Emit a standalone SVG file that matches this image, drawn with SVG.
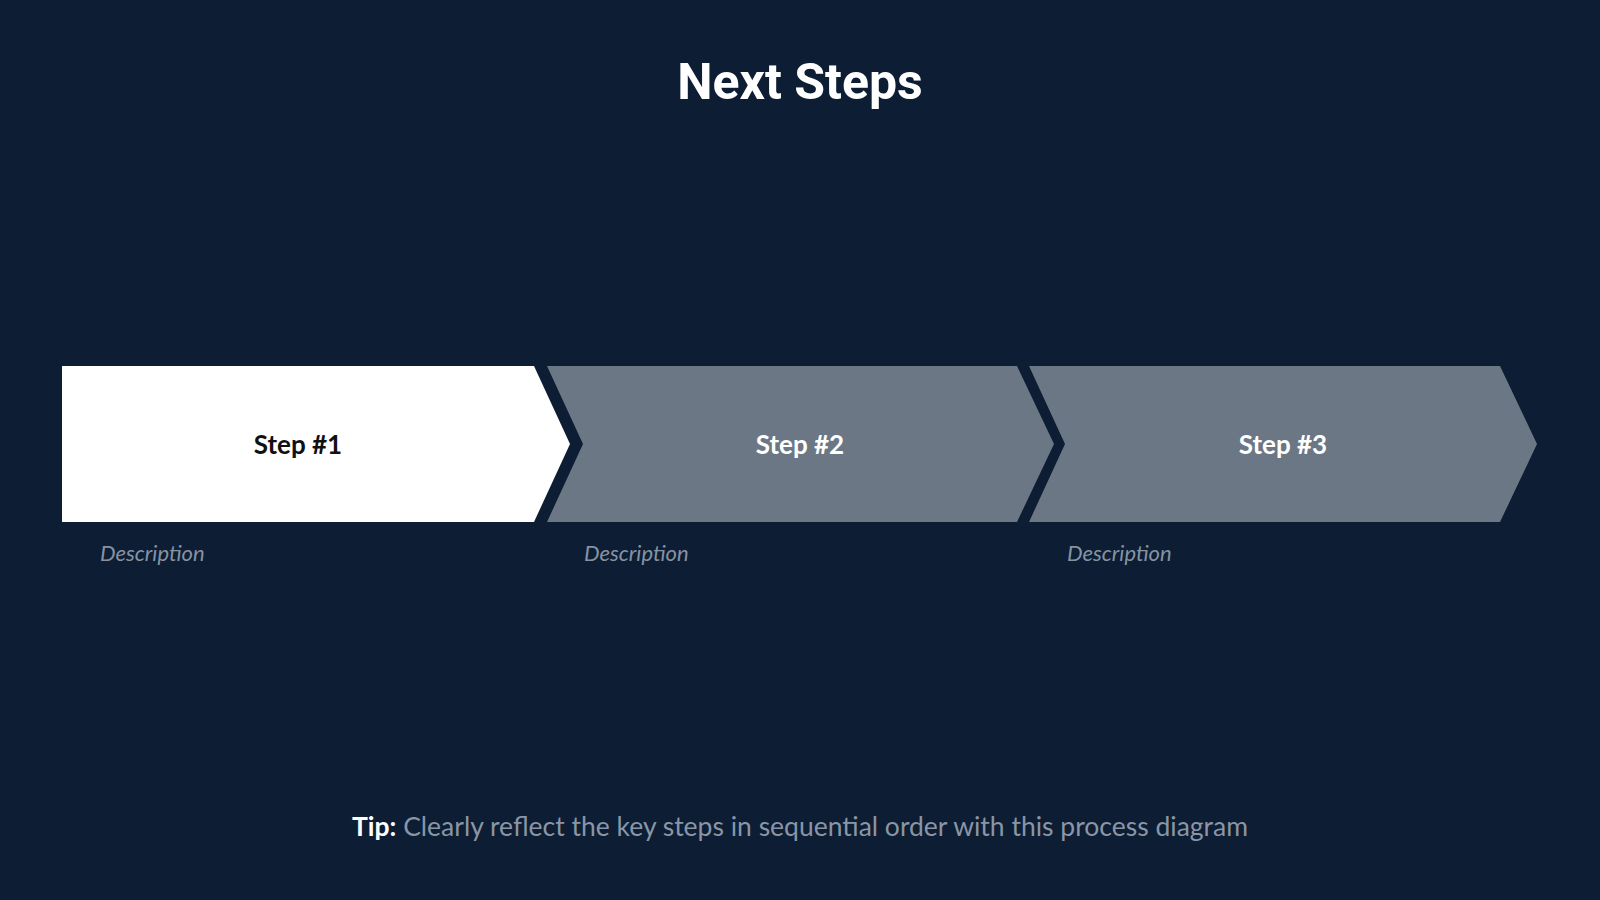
<svg xmlns="http://www.w3.org/2000/svg" width="1600" height="900" viewBox="0 0 1600 900">
<style>
.title{font-family:Roboto,"Liberation Sans",sans-serif;font-weight:700;font-size:50px;fill:#ffffff;text-anchor:middle}
.lbl{font-family:Lato,"Liberation Sans",sans-serif;font-weight:700;font-size:26px;text-anchor:middle}
.desc{font-family:Lato,"Liberation Sans",sans-serif;font-style:italic;font-size:22px;fill:#8692a2}
.tip{font-family:Lato,"Liberation Sans",sans-serif;font-size:26.5px;fill:#8a95a5;text-anchor:middle}
.active{fill:#ffffff}
.inactive{fill:#6b7784}
</style>
<rect width="1600" height="900" fill="#0c1d34"/>
<text class="title" x="800" y="99">Next Steps</text>
<g id="step1">
<polygon class="active" points="62,366 534,366 570,444 534,522 62,522"/>
<text class="lbl" x="298" y="454" fill="#111111">Step #1</text>
<text class="desc" x="100" y="561">Description</text>
</g>
<g id="step2">
<polygon class="inactive" points="547,366 1017,366 1054,444 1017,522 547,522 583,444"/>
<text class="lbl" x="800" y="454" fill="#ffffff">Step #2</text>
<text class="desc" x="584" y="561">Description</text>
</g>
<g id="step3">
<polygon class="inactive" points="1029,366 1500,366 1537,444 1500,522 1029,522 1065,444"/>
<text class="lbl" x="1283" y="454" fill="#ffffff">Step #3</text>
<text class="desc" x="1067" y="561">Description</text>
</g>
<g id="connectors"></g>
<text class="tip" x="800" y="836"><tspan font-weight="700" fill="#ffffff">Tip:</tspan> Clearly reflect the key steps in sequential order with this process diagram</text>
</svg>
